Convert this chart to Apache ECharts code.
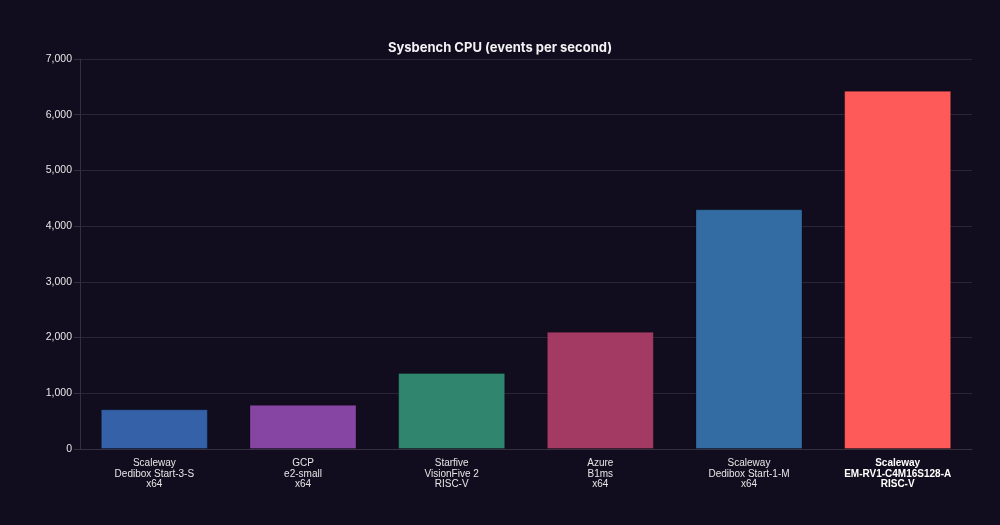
<!DOCTYPE html>
<html>
<head>
<meta charset="utf-8">
<script src="https://cdn.jsdelivr.net/npm/echarts@6/dist/echarts.min.js"></script>
<style>
  html, body { margin: 0; padding: 0; background: #110d1e; }
  #chart { width: 1000px; height: 525px; }
</style>
</head>
<body>
<div id="chart"></div>
<script>
// data
const providers = ['Scaleway', 'GCP', 'Starfive', 'Azure', 'Scaleway', 'Scaleway'];
const machines = ['Dedibox Start-3-S', 'e2-small', 'VisionFive 2', 'B1ms', 'Dedibox Start-1-M', 'EM-RV1-C4M16S128-A'];
const arches = ['x64', 'x64', 'RISC-V', 'x64', 'x64', 'RISC-V'];
const eventsPerSecond = [712, 792, 1365, 2105, 4303, 6428];
const barColors = ['#3461a8', '#8645a3', '#2f856d', '#a23a64', '#336ca3', '#ff5a5a'];
const highlightIndex = 5;

const categories = providers.map((p, i) => p + '\n' + machines[i] + '\n' + arches[i]);

var myChart = echarts.init(document.getElementById('chart'));
myChart.setOption({
    backgroundColor: '#110d1e',
    animation: false,
    title: {
        text: 'Sysbench CPU (events per second)',
        left: 'center',
        top: 37,
        textStyle: { color: '#f2f2f2', fontSize: 13, fontWeight: 'bold', fontFamily: 'Inter' }
    },
    grid: { left: 80, right: 28, top: 59, bottom: 76 },
    xAxis: {
        type: 'category',
        data: categories,
        axisLine: { lineStyle: { color: '#34303f' } },
        axisTick: { show: false },
        axisLabel: {
            color: '#e6e6e6',
            fontSize: 10,
            fontFamily: 'Liberation Sans',
            lineHeight: 10.5,
            margin: 9,
            interval: 0,
            formatter: (v, i) => i === highlightIndex ? '{b|' + v.split('\n').join('}\n{b|') + '}' : v,
            rich: { b: { fontWeight: 'bold', color: '#ffffff', fontSize: 10, fontFamily: 'Liberation Sans', lineHeight: 10.5 } }
        }
    },
    yAxis: {
        type: 'value',
        min: 0,
        max: 7000,
        interval: 1000,
        axisLine: { show: true, lineStyle: { color: '#34303f' } },
        axisTick: { show: true, length: 6, lineStyle: { color: '#34303f' } },
        splitLine: { lineStyle: { color: '#2a2638' } },
        axisLabel: {
            color: '#e6e6e6',
            fontSize: 10.5,
            fontFamily: 'Liberation Sans',
            margin: 8,
            formatter: v => v.toLocaleString('en-US')
        }
    },
    series: [{
        type: 'bar',
        barWidth: '72%',
        data: eventsPerSecond.map((v, i) => ({
            value: v,
            itemStyle: { color: barColors[i], borderColor: 'rgba(0,0,0,0.25)', borderWidth: 1 }
        }))
    }]
});
</script>
</body>
</html>
